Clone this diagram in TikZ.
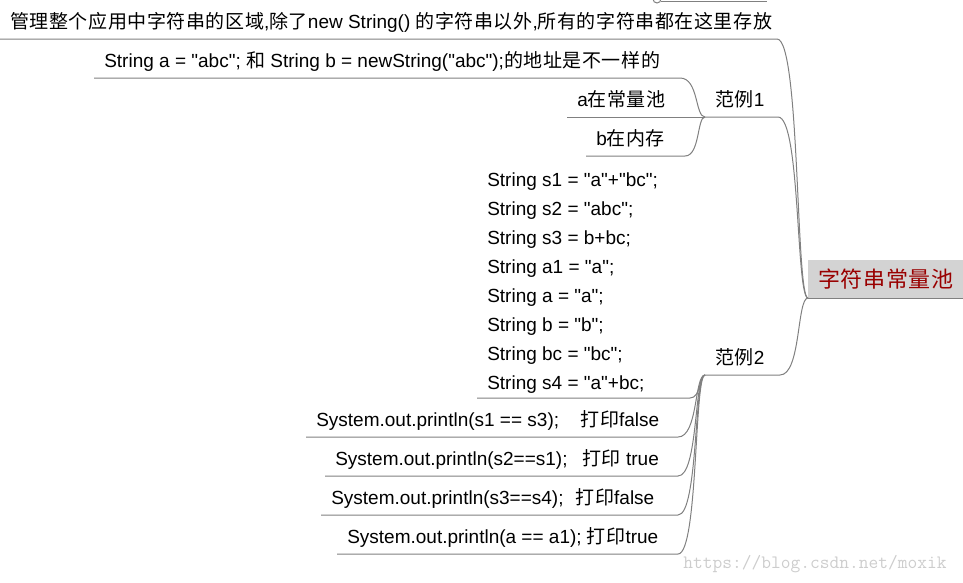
\documentclass[tikz,border=0pt]{standalone}
\usepackage{fontspec}
\setmainfont[Ligatures=TeXOff]{Liberation Sans}
\newfontfamily\cjk[LetterSpace=3]{Noto Sans CJK SC}
\usetikzlibrary{calc}
\newcommand\zh[1]{{\cjk #1}}
\definecolor{linegray}{RGB}{128,128,128}
\definecolor{rootfill}{RGB}{211,211,211}
\definecolor{rootred}{RGB}{153,0,0}
\definecolor{wmgray}{RGB}{205,205,205}
\begin{document}
\begin{tikzpicture}[x=0.75pt,y=-0.75pt,
  topic/.style={anchor=south west, inner xsep=7.5pt, inner ysep=8pt, text depth=0pt,
    font=\fontsize{14.25}{17}\selectfont},
  codebox/.style={topic, inner ysep=6pt, align=left, font=\fontsize{14.25}{21.75}\selectfont},
  rootbox/.style={anchor=south west, fill=rootfill, text=rootred, inner sep=0pt,
    minimum width=116.25pt, minimum height=28.5pt, font={\fontsize{16.5}{20}\selectfont\cjk}},
  link/.style={draw=linegray, line width=0.75pt},
  mm/.style={to path={.. controls ($(\tikztostart)!0.75!(\tikztostart -| \tikztotarget)$)
      and ($(\tikztotarget)!0.4!(\tikztotarget -| \tikztostart)$) .. (\tikztotarget)}}]
\useasboundingbox (0,0) rectangle (963,582);

% top fragment
\draw[link, fill=white] (657,-1) circle[radius=3pt];
\draw[link] (661,1) -- (767,1);

% root
\node[rootbox] (root) at (808,298) {字符串常量池};

% branch nodes
\node[topic] (n1) at (0,39) {\zh{管理整个应用中字符串的区域},\zh{除了}new String() \zh{的字符串以外},\zh{所有的字符串都在这里存放}};
\node[topic] (e1) at (705,117) {\zh{范例}1};
\node[topic] (n2) at (94,78) {String a = "abc"; \zh{和} String b = newString("abc");\zh{的地址是不一样的}};
\node[topic] (na) at (567,117) {a\zh{在常量池}};
\node[topic] (nb) at (586,156) {b\zh{在内存}};
\node[topic] (e2) at (705,375) {\zh{范例}2};
\node[codebox] (nc) at (477,398) {String s1 = "a"+"bc";\\String s2 = "abc";\\String s3 = b+bc;\\String a1 = "a";\\String a = "a";\\String b = "b";\\String bc = "bc";\\String s4 = "a"+bc;};
\node[topic] (p1) at (306,437) {System.out.println(s1 == s3);\hspace{16pt}\zh{打印}false};
\node[topic] (p2) at (325,476) {System.out.println(s2==s1);\hspace{11pt}\zh{打印} true};
\node[topic] (p3) at (321,515) {System.out.println(s3==s4);\hspace{9pt}\zh{打印}false};
\node[topic] (p4) at (337,554) {System.out.println(a == a1); \zh{打印}true};

% curve start points
\coordinate (c1) at ($(n1.south west -| root.south west)+(-31,0)$);
\coordinate (ce1) at ($(e1.south west -| root.south west)+(-30,0)$);
\coordinate (ce2) at ($(e2.south west -| root.south west)+(-28,0)$);
\coordinate (c2) at ($(n2.south west -| e1.south west)+(-25,0)$);
\coordinate (cb) at ($(nb.south west -| e1.south west)+(-20,0)$);
\coordinate (cc) at ($(nc.south west -| e2.south west)+(-15,0)$);
\coordinate (cp1) at ($(p1.south west -| e2.south west)+(-27,0)$);
\coordinate (cp2) at ($(p2.south west -| e2.south west)+(-27,0)$);
\coordinate (cp3) at ($(p3.south west -| e2.south west)+(-27,0)$);
\coordinate (cp4) at ($(p4.south west -| e2.south west)+(-27,0)$);

% connectors
\draw[link] (root.south west) -- (root.south east);
\draw[link] (n1.south west) -- (c1) to[mm] (root.south west);
\draw[link] (e1.south west) -- (ce1) to[mm] (root.south west);
\draw[link] (e2.south west) -- (ce2) to[mm] (root.south west);
\draw[link] (n2.south west) -- (c2) to[mm] (e1.south west);
\draw[link] (na.south west) -- (e1.south west);
\draw[link] (nb.south west) -- (cb) to[mm] (e1.south west);
\draw[link] (nc.south west) -- (cc) to[mm] (e2.south west);
\draw[link] (p1.south west) -- (cp1) to[mm] (e2.south west);
\draw[link] (p2.south west) -- (cp2) to[mm] (e2.south west);
\draw[link] (p3.south west) -- (cp3) to[mm] (e2.south west);
\draw[link] (p4.south west) -- (cp4) to[mm] (e2.south west);

% watermark
\node[anchor=base west, inner sep=0pt, text=wmgray, font=\ttfamily\fontsize{14.2}{16}\selectfont] (wm) at (683,568) {https://blog.csdn.net/moxik};
\end{tikzpicture}
\end{document}
